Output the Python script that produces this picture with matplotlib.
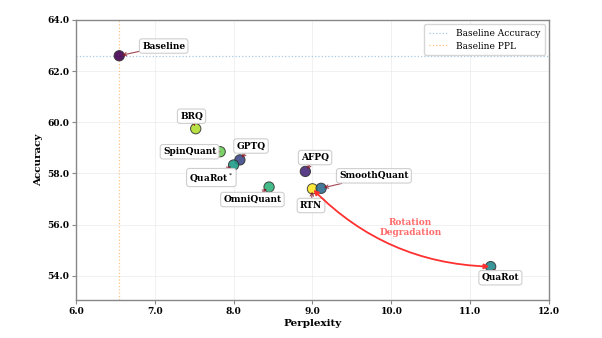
import matplotlib.pyplot as plt
import numpy as np

plt.rcParams['font.family'] = 'DejaVu Serif'

# 방법별 perplexity / accuracy
methods = ['Baseline', 'BRQ', 'SpinQuant', 'GPTQ', 'QuaRot$^*$', 'OmniQuant',
           'AFPQ', 'RTN', 'SmoothQuant', 'QuaRot']
ppl = [6.55, 7.52, 7.83, 8.08, 8.00, 8.45, 8.91, 9.00, 9.11, 11.26]
acc = [62.60, 59.75, 58.85, 58.53, 58.33, 57.47, 58.08, 57.40, 57.42, 54.36]
color_vals = [0.0, 0.88, 0.78, 0.22, 0.55, 0.65, 0.12, 1.0, 0.35, 0.48]

baseline_acc = acc[0]
baseline_ppl = ppl[0]

# 라벨 위치 (points 단위 offset)
offsets = {
    'Baseline': (32, 7),
    'BRQ': (-3, 9),
    'SpinQuant': (-22, 0),
    'GPTQ': (8, 10),
    'QuaRot$^*$': (-16, -9),
    'OmniQuant': (-12, -9),
    'AFPQ': (7, 10),
    'RTN': (-1, -12),
    'SmoothQuant': (38, 9),
    'QuaRot': (7, -8),
}

fig = plt.figure(figsize=(6.02, 3.38), dpi=100)
ax = fig.add_axes([0.126, 0.112, 0.786, 0.829])

ax.axhline(baseline_acc, color='#9ec3e0', ls=':', lw=0.9, alpha=0.9, label='Baseline Accuracy')
ax.axvline(baseline_ppl, color='#ffb366', ls=':', lw=0.9, alpha=0.8, label='Baseline PPL')

colors = plt.cm.viridis(np.array(color_vals))
ax.scatter(ppl, acc, s=55, c=colors, edgecolors='#333333', linewidths=0.7,
           alpha=0.9, zorder=3)

for name, x, y in zip(methods, ppl, acc):
    ox, oy = offsets[name]
    ax.annotate(name, xy=(x, y), xytext=(ox, oy), textcoords='offset points',
                ha='center', va='center', fontsize=6.5, fontweight='bold',
                bbox=dict(boxstyle='round,pad=0.3', fc='white', ec='#cccccc', lw=0.8, alpha=0.95),
                arrowprops=dict(arrowstyle='->', color='#8b1a2a', lw=0.8, alpha=0.8,
                                shrinkA=0, shrinkB=2, mutation_scale=6),
                zorder=4)

# QuaRot -> RTN 회전 열화 화살표
i_rtn = methods.index('RTN')
i_qr = methods.index('QuaRot')
ax.annotate('', xy=(ppl[i_rtn], acc[i_rtn]), xytext=(ppl[i_qr], acc[i_qr]),
            arrowprops=dict(arrowstyle='<|-|>', color='#ff3030', lw=1.3,
                            mutation_scale=7, shrinkA=1, shrinkB=1,
                            connectionstyle='arc3,rad=-0.2'),
            zorder=5)
ax.text(10.24, 55.88, 'Rotation\nDegradation', ha='center', va='center',
        fontsize=6.5, fontweight='bold', color='#ff6b6b', linespacing=1.1)

ax.set_xlim(6.0, 12.0)
ax.set_ylim(53.05, 64.0)
ax.set_xticks(np.arange(6, 12.1, 1))
ax.set_yticks(np.arange(54, 64.1, 2))
ax.xaxis.set_major_formatter(plt.FormatStrFormatter('%.1f'))
ax.yaxis.set_major_formatter(plt.FormatStrFormatter('%.1f'))
for lab in ax.get_xticklabels() + ax.get_yticklabels():
    lab.set_fontweight('bold')
ax.tick_params(labelsize=6.5, length=3, width=0.8, color='#888888', pad=2)

ax.set_xlabel('Perplexity', fontsize=7.5, fontweight='bold', labelpad=2)
ax.set_ylabel('Accuracy', fontsize=7.5, fontweight='bold', labelpad=3)

ax.grid(True, color='#e8e8e8', lw=0.6, alpha=0.7)
ax.set_axisbelow(True)
for sp in ax.spines.values():
    sp.set_color('#888888')
    sp.set_linewidth(1.0)

leg = ax.legend(loc='upper right', fontsize=6.5, frameon=True, fancybox=True,
                handlelength=2.2, borderpad=0.5, labelspacing=0.4)
leg.get_frame().set_edgecolor('#cccccc')

fig.savefig('out.png', dpi=100)
